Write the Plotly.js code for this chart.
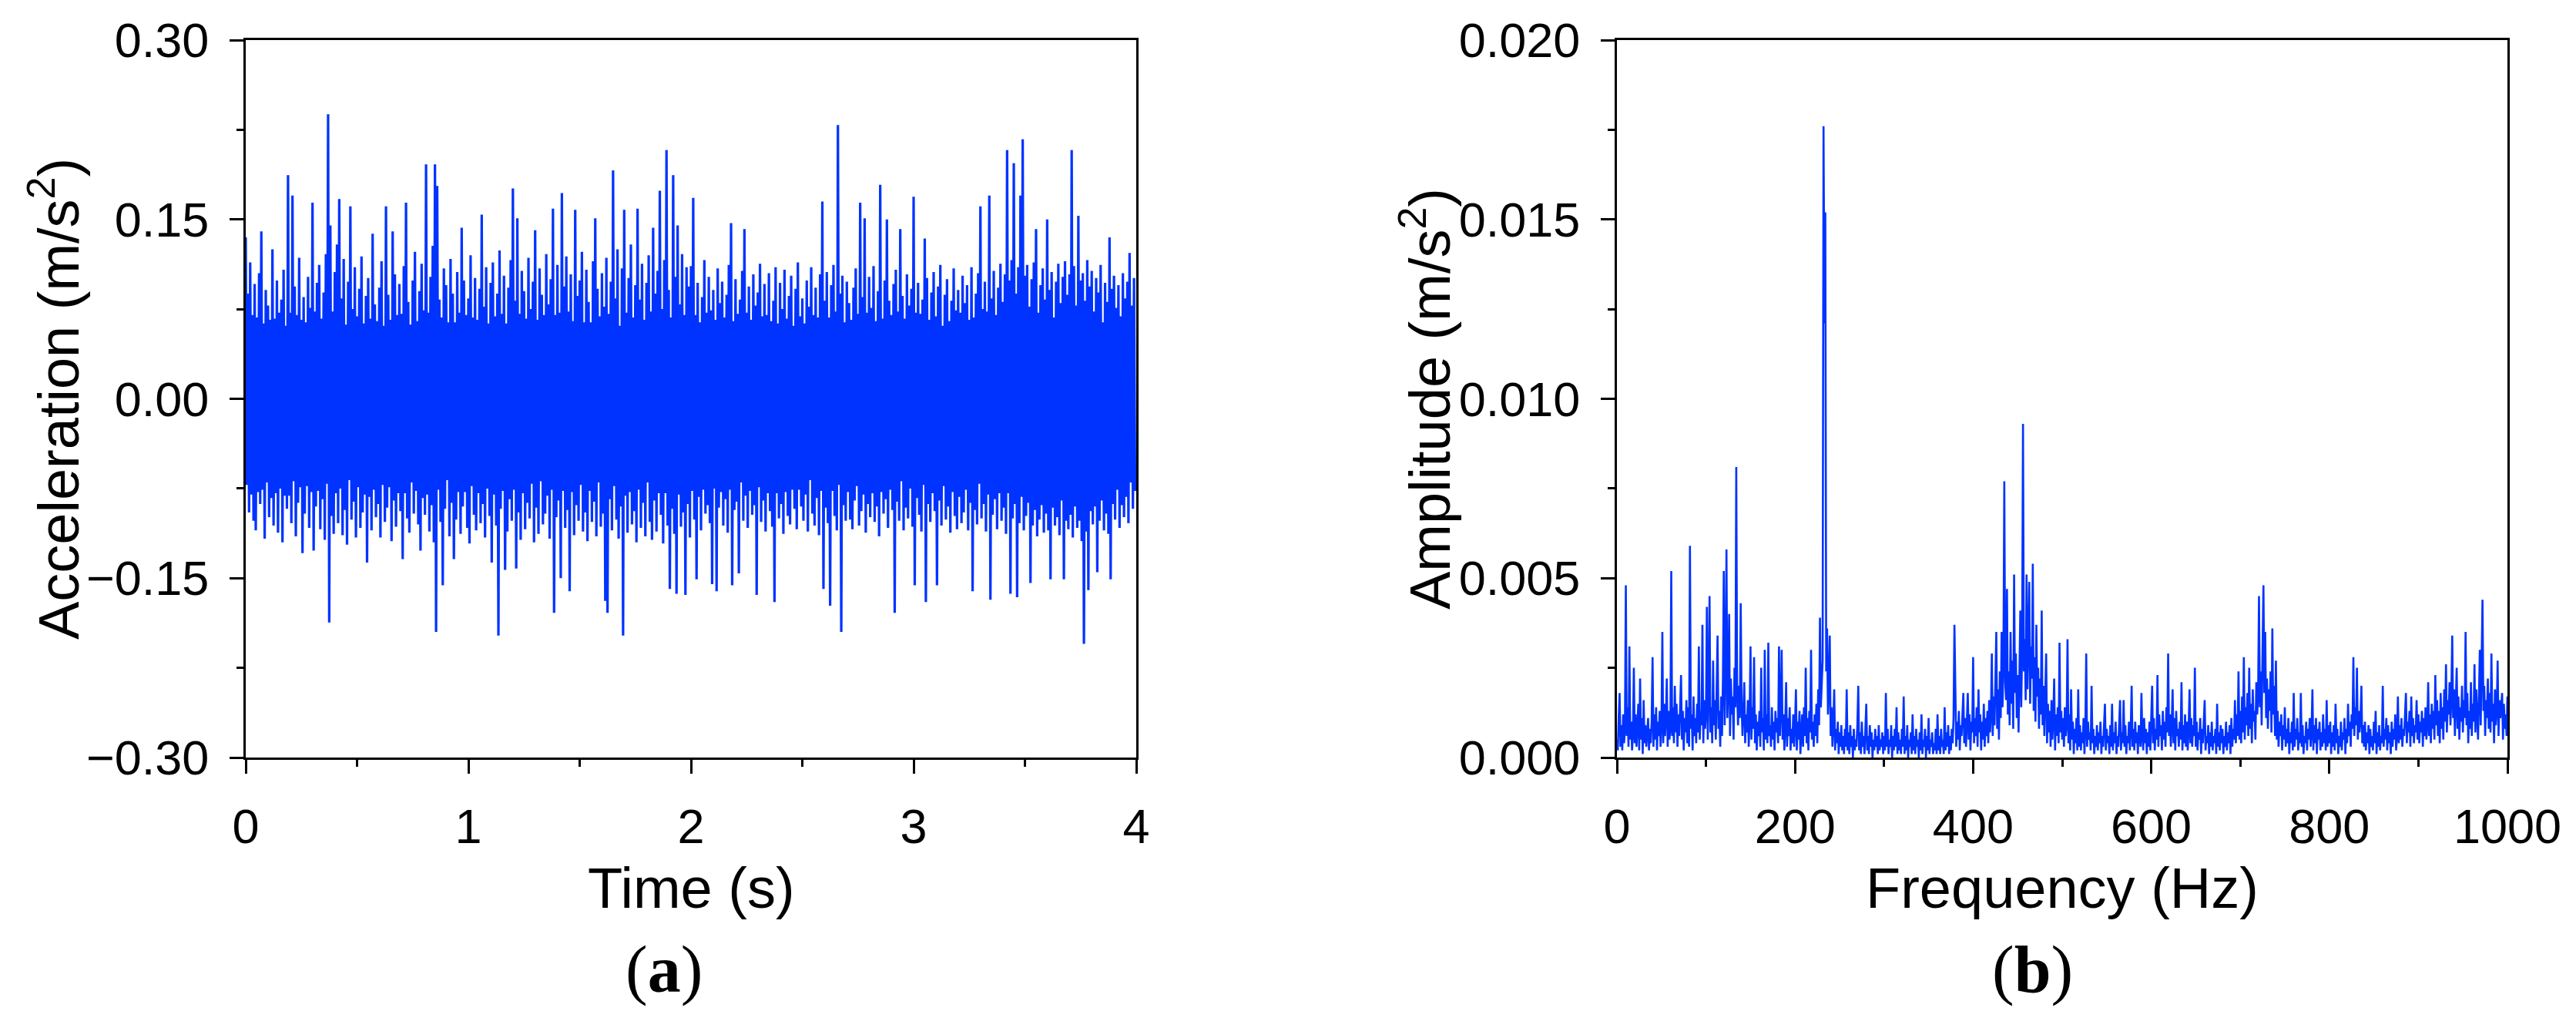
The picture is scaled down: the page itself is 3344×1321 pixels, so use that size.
<!DOCTYPE html>
<html>
<head>
<meta charset="utf-8">
<script src="https://cdn.plot.ly/plotly-3.0.1.min.js"></script>
<style>
html, body { margin: 0; padding: 0; background: #ffffff; }
#chart { width: 3344px; height: 1321px; }
</style>
</head>
<body>
<div id="chart"></div>
<script>
// ---- Panel (a): acceleration time history, values in 10^-3 m/s^2, sampled every 0.005 s ----
const sampleInterval = 0.005;
const accelMilli = [
135,-72,88,-95,114,-80,70,-102,96,-110,68,-78,105,-88,140,-76,63,-117,91,-70,
78,-99,66,-83,125,-106,67,-79,99,-112,72,-75,83,-120,108,-81,61,-92,187,-81,
72,-104,170,-69,94,-115,70,-87,118,-74,66,-129,85,-96,64,-73,102,-108,76,-78,
164,-127,73,-90,97,-77,112,-109,67,-84,89,-118,121,-71,238,-187,145,-98,73,-113,
106,-79,129,-104,167,-75,84,-114,117,-93,62,-122,98,-68,161,-101,75,-86,110,-116,
69,-74,92,-108,119,-95,63,-80,86,-137,101,-82,67,-110,138,-76,79,-99,65,-88,
93,-116,115,-72,61,-103,161,-91,87,-74,66,-119,140,-85,104,-107,70,-79,96,-94,
71,-134,111,-79,164,-100,81,-112,62,-70,99,-96,123,-77,65,-105,90,-127,113,-83,
74,-97,196,-80,72,-111,102,-89,128,-120,196,-195,178,-76,83,-103,68,-156,109,-92,
95,-68,64,-115,117,-87,88,-134,64,-101,106,-78,72,-113,143,-90,99,-78,70,-108,
84,-121,120,-73,68,-97,101,-110,66,-79,92,-104,154,-88,77,-116,110,-75,63,-98,
97,-137,114,-80,69,-106,88,-198,124,-92,71,-77,103,-143,63,-111,93,-84,116,-102,
176,-76,82,-142,151,-95,71,-118,107,-79,90,-109,67,-87,118,-100,75,-71,98,-120,
141,-91,66,-113,109,-69,87,-105,70,-96,121,-81,79,-117,100,-76,159,-179,70,-99,
112,-85,72,-150,172,-77,94,-108,119,-93,73,-161,104,-78,65,-114,158,-89,86,-102,
99,-72,123,-111,64,-95,108,-119,81,-77,64,-103,115,-86,151,-115,92,-70,69,-107,
105,-96,77,-169,118,-179,71,-84,98,-110,191,-73,84,-101,125,-117,61,-90,109,-198,
158,-81,72,-112,101,-78,129,-105,68,-94,95,-120,159,-76,83,-108,113,-87,66,-115,
97,-70,120,-103,73,-118,143,-85,88,-111,107,-79,174,-97,75,-121,116,-79,208,-106,
91,-159,68,-92,187,-113,102,-163,145,-80,79,-107,121,-95,70,-164,110,-88,94,-116,
111,-77,168,-101,70,-151,97,-82,64,-110,85,-76,116,-96,72,-89,102,-104,74,-155,
91,-75,66,-161,109,-91,80,-78,98,-106,68,-84,87,-112,112,-76,147,-156,65,-93,
100,-86,71,-146,83,-70,107,-102,142,-81,72,-108,94,-77,66,-97,104,-89,78,-164,
89,-74,113,-103,69,-85,96,-111,70,-79,105,-94,65,-107,82,-170,110,-79,63,-100,
97,-88,75,-113,108,-78,67,-98,86,-105,103,-76,61,-92,92,-109,114,-76,69,-90,
84,-102,63,-80,99,-111,77,-68,110,-96,70,-106,93,-83,68,-114,104,-77,165,-159,
82,-91,106,-104,68,-173,95,-77,112,-98,73,-110,229,-72,88,-195,103,-89,64,-102,
98,-78,80,-101,66,-109,93,-85,109,-73,71,-106,164,-94,85,-80,151,-112,72,-88,
102,-99,76,-79,111,-103,65,-90,90,-115,179,-78,67,-96,99,-84,150,-108,82,-76,
70,-93,96,-179,108,-86,73,-102,142,-69,86,-110,67,-91,104,-100,78,-75,92,-107,
169,-156,72,-83,97,-97,71,-111,83,-72,134,-170,101,-88,66,-103,89,-79,106,-94,
69,-156,94,-85,112,-106,61,-73,87,-101,100,-90,65,-112,82,-78,109,-98,74,-109,
91,-82,72,-104,103,-95,80,-76,95,-110,66,-87,110,-161,68,-93,88,-105,105,-71,
161,-100,75,-88,98,-111,73,-80,170,-168,84,-97,107,-84,70,-109,93,-79,113,-102,
81,-91,104,-113,208,-79,99,-163,116,-100,197,-88,88,-166,110,-104,170,-82,217,-110,
103,-98,112,-87,77,-154,100,-106,114,-93,142,-115,72,-101,95,-89,109,-112,83,-96,
150,-110,91,-151,106,-91,68,-106,98,-99,113,-114,80,-85,102,-151,115,-102,87,-109,
104,-97,208,-116,111,-90,78,-108,153,-102,99,-119,105,-205,82,-111,116,-160,94,-94,
107,-105,73,-90,101,-145,89,-102,112,-85,64,-110,97,-96,81,-113,135,-151,92,-88,
103,-101,76,-76,95,-108,69,-89,105,-99,84,-82,98,-104,122,-70,78,-92,101,-77
];

// ---- Panel (b): amplitude spectrum, values in 10^-4 m/s^2, one value every 1 Hz ----
const freqStep = 1;
const ampE4 = [
5,2,11,18,3,9,2,12,4,8,48,6,14,3,31,5,10,2,7,25,
4,12,3,9,15,2,22,5,11,1,16,4,9,3,7,11,2,8,4,10,
28,3,12,5,14,2,10,6,13,3,9,35,4,15,6,11,22,3,13,5,
8,52,6,14,4,20,7,15,3,12,6,16,23,5,13,2,11,7,16,4,
14,3,59,8,12,2,17,6,11,4,15,7,31,5,13,9,37,4,16,8,
12,42,5,18,45,7,14,4,27,9,16,5,19,34,8,13,3,17,6,21,
52,9,24,58,11,19,40,6,22,12,17,5,25,14,81,18,9,20,11,43,
15,6,13,21,4,12,7,16,3,11,31,5,14,8,28,4,12,2,10,6,
13,3,25,7,11,2,30,5,12,4,32,6,9,3,14,5,10,2,13,7,
11,4,31,6,13,30,5,12,2,9,21,3,11,6,14,2,8,4,12,3,
9,19,2,10,5,13,1,8,12,3,14,6,25,4,11,2,13,7,30,5,
10,3,12,6,15,4,19,9,39,14,22,27,176,121,152,24,36,12,20,34,
6,14,3,9,19,2,8,4,10,1,7,3,9,2,6,1,8,3,19,2,
7,1,9,3,6,0,8,2,5,3,9,20,2,7,1,10,3,6,1,8,
15,2,6,1,9,3,7,0,5,2,8,3,6,1,9,2,5,3,7,1,
6,2,18,3,8,1,5,3,9,0,6,2,8,3,14,1,7,2,5,1,
8,3,17,1,6,2,9,0,5,3,7,1,12,2,6,1,8,3,5,0,
7,2,12,1,5,3,8,0,6,2,11,1,5,3,7,1,4,2,8,1,
12,2,6,1,8,3,5,1,14,2,7,3,9,1,6,2,8,4,11,37,
14,3,10,5,13,2,9,6,12,18,4,11,3,9,18,5,12,2,10,7,
28,4,11,6,14,3,19,7,12,2,10,5,15,3,11,6,13,4,16,7,
12,29,6,17,9,21,35,8,19,5,24,11,35,14,26,77,21,16,47,12,
24,9,35,15,27,8,51,18,29,11,23,7,26,41,14,30,93,24,33,16,
51,19,34,49,15,31,22,54,13,28,10,37,17,25,8,22,12,41,9,20,
6,18,29,4,15,7,13,3,16,5,11,22,2,12,6,14,4,32,7,13,
5,11,3,14,6,9,33,4,12,2,19,5,10,1,8,4,11,2,19,3,
9,2,7,4,11,1,8,29,3,10,5,7,2,20,4,8,1,6,3,9,
2,7,4,10,1,6,3,9,15,2,8,4,6,1,9,3,15,2,7,4,
10,1,6,3,8,16,2,7,4,16,3,9,1,6,4,10,2,8,20,3,
8,2,10,4,7,1,9,5,3,18,6,2,11,4,8,1,7,3,10,2,
9,20,4,11,2,8,5,23,3,12,6,9,2,13,5,10,3,14,7,29,
6,12,3,9,19,4,11,2,13,6,8,3,10,5,21,2,9,4,12,3,
10,2,8,19,4,11,3,9,6,25,3,10,2,7,5,11,1,8,4,9,
16,2,6,4,9,1,7,3,10,2,6,4,8,1,15,3,7,2,9,4,
8,1,6,3,10,2,7,4,9,1,11,3,8,5,16,4,12,6,24,5,
13,4,17,7,28,5,14,9,18,6,25,8,15,4,19,10,13,5,21,12,
17,45,14,24,9,30,48,18,35,11,22,8,19,13,24,7,36,12,20,6,
27,5,13,3,10,6,12,2,9,5,14,3,8,4,11,1,7,4,10,2,
18,3,8,5,11,2,7,4,18,3,9,1,6,4,10,2,8,5,11,3,
7,19,2,9,4,11,1,8,5,10,2,7,3,12,4,8,2,16,3,9,
4,10,1,7,3,9,2,15,4,8,1,6,3,10,2,7,5,11,1,8,
4,15,6,10,3,12,8,28,6,14,9,25,5,13,7,11,20,4,9,3,
10,2,7,4,9,1,8,3,6,2,10,4,13,1,7,3,9,2,6,4,
20,3,8,5,11,2,9,4,7,1,10,3,8,5,12,2,6,17,4,9,
5,11,3,8,6,12,18,4,10,7,13,3,17,6,11,4,9,7,16,5,
12,4,10,7,13,3,11,6,14,5,9,21,6,12,4,15,8,13,5,23,
9,16,6,13,4,18,8,14,5,19,10,26,7,16,12,21,9,17,34,11,
19,6,15,25,8,17,5,14,10,20,7,16,11,35,9,18,4,13,8,21,
6,15,10,26,7,19,12,5,17,30,9,23,44,13,20,6,16,11,22,8,
18,7,29,10,15,4,19,9,13,27,6,16,11,14,18,5,15,8,12,6,
17
];

// ---- Axis tick values ----
const timeTicks = [0, 1, 2, 3, 4];
const accelTicks = [-0.30, -0.15, 0.00, 0.15, 0.30];
const freqTicks = [0, 200, 400, 600, 800, 1000];
const ampTicks = [0.000, 0.005, 0.010, 0.015, 0.020];

// ---- Build traces from the arrays ----
const time = accelMilli.map((_, i) => i * sampleInterval);
const accel = accelMilli.map(v => v / 1000);
const freq = ampE4.map((_, i) => i * freqStep);
const amp = ampE4.map(v => v / 10000);

const lineColor = '#0033ff';
const traces = [
  { x: time, y: accel, type: 'scatter', mode: 'lines', xaxis: 'x', yaxis: 'y',
    line: { color: lineColor, width: 3.2 }, hoverinfo: 'skip', showlegend: false },
  { x: freq, y: amp, type: 'scatter', mode: 'lines', xaxis: 'x2', yaxis: 'y2',
    line: { color: lineColor, width: 2.6 }, hoverinfo: 'skip', showlegend: false }
];

const W = 3344, H = 1321;
const tickFont = { family: 'Liberation Sans, Arial, sans-serif', size: 63, color: '#000000' };
const titleFont = { family: 'Liberation Sans, Arial, sans-serif', size: 74, color: '#000000' };
const labelFont = { family: 'Liberation Serif, Times New Roman, serif', size: 86, color: '#000000' };

function axisBase() {
  return {
    showline: true, linecolor: '#000000', linewidth: 3, mirror: true,
    ticks: 'outside', ticklen: 18, tickwidth: 3, tickcolor: '#000000',
    showgrid: false, zeroline: false, tickfont: tickFont,
    ticklabelstandoff: 14, fixedrange: true
  };
}
const minorTick = (d) => ({ dtick: d, ticks: 'outside', ticklen: 9, tickwidth: 3, tickcolor: '#000000', showgrid: false });

const yDomain = [1 - 983 / H, 1 - 52 / H];

const layout = {
  width: W, height: H,
  margin: { l: 0, r: 0, t: 0, b: 0 },
  paper_bgcolor: '#ffffff', plot_bgcolor: '#ffffff',
  showlegend: false,
  xaxis: Object.assign(axisBase(), {
    domain: [319 / W, 1475 / W], range: [0, 4], anchor: 'y',
    tickmode: 'array', tickvals: timeTicks, ticktext: timeTicks.map(String),
    minor: Object.assign(minorTick(0.5), { tick0: 0 })
  }),
  yaxis: Object.assign(axisBase(), {
    domain: yDomain, range: [-0.3, 0.3], anchor: 'x',
    tickmode: 'array', tickvals: accelTicks, tickformat: '.2f',
    minor: Object.assign(minorTick(0.075), { tick0: 0 })
  }),
  xaxis2: Object.assign(axisBase(), {
    domain: [2099 / W, 3255 / W], range: [0, 1000], anchor: 'y2',
    tickmode: 'array', tickvals: freqTicks, ticktext: freqTicks.map(String),
    minor: Object.assign(minorTick(100), { tick0: 0 })
  }),
  yaxis2: Object.assign(axisBase(), {
    domain: yDomain, range: [0, 0.02], anchor: 'x2',
    tickmode: 'array', tickvals: ampTicks, tickformat: '.3f',
    minor: Object.assign(minorTick(0.0025), { tick0: 0 })
  }),
  annotations: [
    { text: 'Acceleration (m/s<sup>2</sup>)', xref: 'paper', yref: 'paper',
      x: 71 / W, y: 1 - 518 / H, xanchor: 'center', yanchor: 'middle',
      textangle: -90, showarrow: false, font: titleFont },
    { text: 'Amplitude (m/s<sup>2</sup>)', xref: 'paper', yref: 'paper',
      x: 1851 / W, y: 1 - 518 / H, xanchor: 'center', yanchor: 'middle',
      textangle: -90, showarrow: false, font: titleFont },
    { text: 'Time (s)', xref: 'paper', yref: 'paper',
      x: 897 / W, y: 1 - 1152 / H, xanchor: 'center', yanchor: 'middle',
      showarrow: false, font: titleFont },
    { text: 'Frequency (Hz)', xref: 'paper', yref: 'paper',
      x: 2677 / W, y: 1 - 1152 / H, xanchor: 'center', yanchor: 'middle',
      showarrow: false, font: titleFont },
    { text: '(<b>a</b>)', xref: 'paper', yref: 'paper',
      x: 862 / W, y: 1 - 1258 / H, xanchor: 'center', yanchor: 'middle',
      showarrow: false, font: labelFont },
    { text: '(<b>b</b>)', xref: 'paper', yref: 'paper',
      x: 2638 / W, y: 1 - 1258 / H, xanchor: 'center', yanchor: 'middle',
      showarrow: false, font: labelFont }
  ]
};

Plotly.newPlot('chart', traces, layout, { staticPlot: true, displayModeBar: false });
</script>
</body>
</html>
